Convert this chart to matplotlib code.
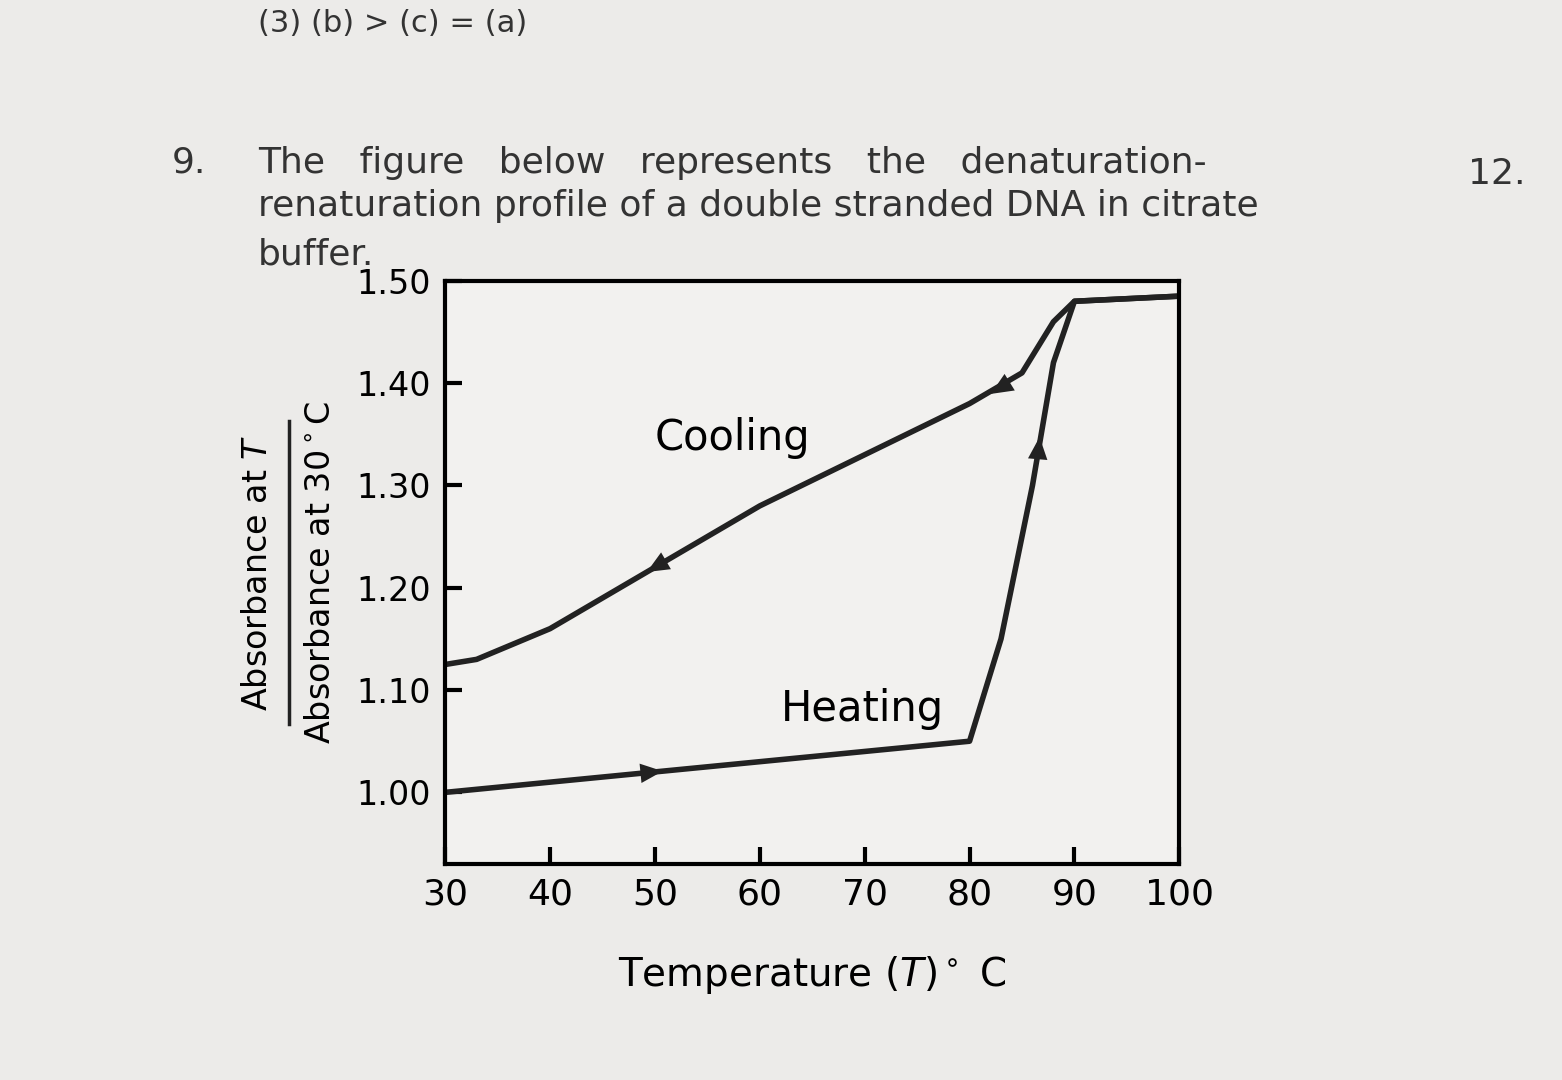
import matplotlib
matplotlib.use("Agg")
import matplotlib.pyplot as plt

heat_T = [30, 40, 50, 60, 70, 80, 83, 86, 88, 90, 100]
heat_A = [1.00, 1.01, 1.02, 1.03, 1.04, 1.05, 1.15, 1.30, 1.42, 1.48, 1.485]
cool_T = [100, 90, 88, 85, 80, 70, 60, 50, 40, 33, 30]
cool_A = [1.485, 1.48, 1.46, 1.41, 1.38, 1.33, 1.28, 1.22, 1.16, 1.13, 1.125]
xticks = [30, 40, 50, 60, 70, 80, 90, 100]
yticks = [1.00, 1.10, 1.20, 1.30, 1.40, 1.50]

fig = plt.figure(figsize=(15.62, 10.8), dpi=100)
fig.patch.set_facecolor("#ecebe9")
ax = fig.add_axes([0.285, 0.20, 0.47, 0.54])
ax.set_facecolor("#f2f1ef")
ax.plot(heat_T, heat_A, color="#222", lw=4)
ax.plot(cool_T, cool_A, color="#222", lw=4)
for T, A, dx, dy in [(48, 1.018, 3, 0.003), (86.2, 1.29, 0.5, 0.06), (52, 1.232, -3, -0.018), (84, 1.402, -2.2, -0.014)]:
    ax.annotate("", xy=(T + dx, A + dy), xytext=(T, A),
                arrowprops=dict(arrowstyle="-|>,head_length=1.6,head_width=0.7", color="#222", lw=0))
ax.set_xlim(30, 100)
ax.set_ylim(0.93, 1.50)
ax.set_xticks(xticks)
ax.set_xticklabels([str(t) for t in xticks], fontsize=26)
ax.set_yticks(yticks)
ax.set_yticklabels([f"{v:.2f}" for v in yticks], fontsize=24)
ax.tick_params(direction="in", length=12, width=3, pad=10)
for s in ax.spines.values():
    s.set_linewidth(3)
ax.text(50, 1.335, "Cooling", fontsize=30)
ax.text(62, 1.07, "Heating", fontsize=30)
ax.set_xlabel("Temperature ($T$)$^\\circ$ C", fontsize=28, labelpad=30)
fig.text(0.165, 0.47, "Absorbance at $T$", fontsize=24, rotation=90, ha="center", va="center")
fig.text(0.205, 0.47, "Absorbance at 30$^\\circ$C", fontsize=24, rotation=90, ha="center", va="center")
fig.add_artist(plt.Line2D([0.185, 0.185], [0.33, 0.61], color="#222", lw=2.5))

fig.text(0.165, 0.97, "(3) (b) > (c) = (a)", fontsize=22, color="#333")
fig.text(0.11, 0.84, "9.", fontsize=26, color="#333")
fig.text(0.165, 0.84, "The   figure   below   represents   the   denaturation-", fontsize=26, color="#333")
fig.text(0.165, 0.80, "renaturation profile of a double stranded DNA in citrate", fontsize=26, color="#333")
fig.text(0.165, 0.755, "buffer.", fontsize=26, color="#333")
fig.text(0.94, 0.83, "12.", fontsize=26, color="#333")
fig.savefig("out.png", dpi=100, facecolor=fig.get_facecolor())
